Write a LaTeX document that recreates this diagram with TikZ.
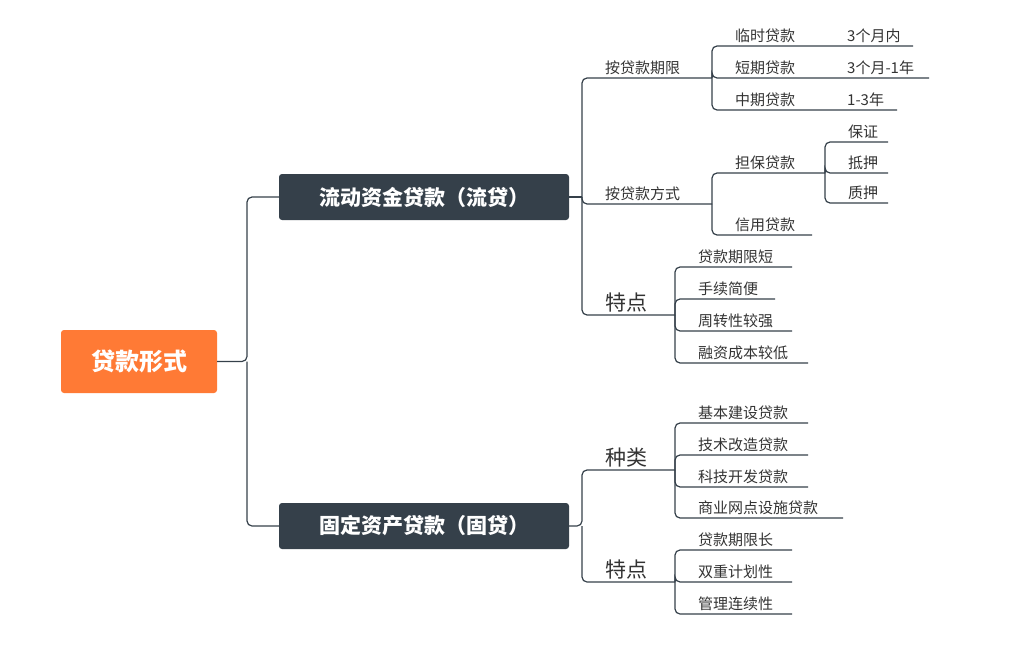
\documentclass[tikz,border=0pt]{standalone}
\usepackage{fontspec}
\setmainfont{Noto Sans CJK SC}
\usetikzlibrary{positioning}
\definecolor{darkbox}{HTML}{35404A}
\definecolor{rootbox}{HTML}{FF7A35}
\definecolor{txt}{HTML}{333333}
\tikzset{
	every picture/.style={x=1pt,y=-1pt},
	rootnode/.style={fill=rootbox,rounded corners=3pt,text=white,font=\fontsize{24}{28}\selectfont\bfseries,minimum width=156pt,minimum height=63pt},
	mainnode/.style={fill=darkbox,rounded corners=3pt,text=white,font=\fontsize{21}{25}\selectfont\bfseries,minimum width=290pt,minimum height=46pt},
	leaf/.style={anchor=south west,inner sep=1pt,text=txt,font=\fontsize{15}{18}\selectfont},
	bigleaf/.style={leaf,font=\fontsize{21}{25}\selectfont},
	branch/.style={draw=darkbox,line width=1.2pt,rounded corners=5pt}
}
\begin{document}
\begin{tikzpicture}
\useasboundingbox (0,0) rectangle (1019,666);
% root and main boxes
\node[rootnode] (root) at (139,361.5) {贷款形式};
\node[mainnode] (liudai) at (424,197) {流动资金贷款（流贷）};
\node[mainnode] (gudai) at (424,526) {固定资产贷款（固贷）};
\coordinate (j0) at (247,361.5);
\draw[branch] (root.east) -- (j0) |- (liudai.west);
\draw[branch] (j0) |- (gudai.west);
% upper branch
\coordinate (j1) at (582,197);
\draw[branch] (liudai.east) -- (j1);
\foreach \name/\y/\xe/\t in {qixian/78/712/按贷款期限, fangshi/204/712/按贷款方式}{
	\node[leaf] (\name) at (604,\y-2) {\t};
	\draw[branch] (j1) |- (\xe,\y);
}
\node[bigleaf] (tedian1) at (604,313) {特点};
\draw[branch] (j1) |- (675,315);
% by term
\coordinate (j2) at (712,78);
\foreach \name/\y/\xe/\t/\u in {linshi/46/913/临时贷款/3个月内, duanqi/78/929/短期贷款/3个月-1年, zhongqi/110/897/中期贷款/1-3年}{
	\node[leaf] (\name) at (734,\y-2) {\t};
	\node[leaf] (\name-v) at (846,\y-2) {\u};
	\draw[branch] (j2) |- (\xe,\y);
}
% by method
\coordinate (j3) at (712,204);
\node[leaf] (danbao) at (734,171) {担保贷款};
\draw[branch] (j3) |- (825,173);
\node[leaf] (xinyong) at (734,233) {信用贷款};
\draw[branch] (j3) |- (812,235);
\coordinate (j4) at (825,173);
\foreach \name/\y/\t in {baozheng/142/保证, diya/173/抵押, zhiya/203/质押}{
	\node[leaf] (\name) at (847,\y-2) {\t};
	\draw[branch] (j4) |- (888,\y);
}
% features 1
\coordinate (j5) at (675,315);
\foreach \name/\y/\xe/\t in {ta/267/792/贷款期限短, tb/299/775/手续简便, tc/331/792/周转性较强, td/363/808/融资成本较低}{
	\node[leaf] (\name) at (697,\y-2) {\t};
	\draw[branch] (j5) |- (\xe,\y);
}
% lower branch
\coordinate (j6) at (582,526);
\draw[branch] (gudai.east) -- (j6) |- (675,470);
\draw[branch] (j6) |- (675,582);
\node[bigleaf] (zhonglei) at (604,468) {种类};
\node[bigleaf] (tedian2) at (604,580) {特点};
\coordinate (j7) at (675,470);
\foreach \name/\y/\xe/\t in {ka/423/808/基本建设贷款, kb/455/808/技术改造贷款, kc/487/808/科技开发贷款, kd/518/843/商业网点设施贷款}{
	\node[leaf] (\name) at (697,\y-2) {\t};
	\draw[branch] (j7) |- (\xe,\y);
}
\coordinate (j8) at (675,582);
\foreach \name/\y/\t in {fa/550/贷款期限长, fb/582/双重计划性, fc/614/管理连续性}{
	\node[leaf] (\name) at (697,\y-2) {\t};
	\draw[branch] (j8) |- (792,\y);
}
\end{tikzpicture}
\end{document}
